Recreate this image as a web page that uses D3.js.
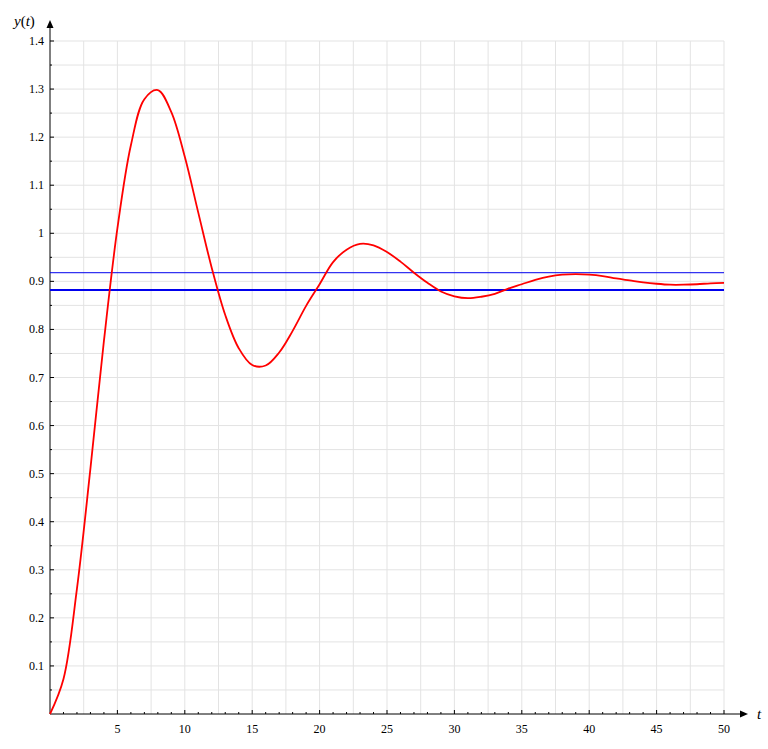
<!DOCTYPE html>
<html><head><meta charset="utf-8">
<script src="https://cdn.jsdelivr.net/npm/d3@7"></script>
<style>body{margin:0;background:#fff}text{font-family:"Liberation Serif","DejaVu Serif",serif;}</style>
</head><body><svg id="c" width="768" height="749"></svg>
<script>
const tValues=[0,1,2,3,4,5,6,7,8,9,10,11,12,13,14,15,16,17,18,19,20,21,22,23,24,25,26,27,28,29,30,31,32,33,34,35,36,37,38,39,40,41,42,43,44,45,46,47,48,49,50];
const yValues=[0,0.073,0.261,0.511,0.776,1.010,1.183,1.279,1.298,1.252,1.159,1.043,0.928,0.830,0.761,0.726,0.725,0.752,0.797,0.849,0.894,0.940,0.966,0.978,0.975,0.961,0.941,0.918,0.897,0.879,0.869,0.865,0.868,0.874,0.885,0.894,0.903,0.910,0.914,0.915,0.914,0.911,0.906,0.902,0.898,0.895,0.893,0.893,0.894,0.896,0.897];
const bandLines=[{v:0.918,w:1},{v:0.882,w:2}];
const xTicks=[5,10,15,20,25,30,35,40,45,50];
const yTicks=[0.1,0.2,0.3,0.4,0.5,0.6,0.7,0.8,0.9,1,1.1,1.2,1.3,1.4];
const svg=d3.select("#c");
const x=d3.scaleLinear().domain([0,50]).range([50,724]);
const y=d3.scaleLinear().domain([0,1.4]).range([714,41]);
const g=svg.append("g");
d3.range(2.5,50.01,2.5).forEach(v=>g.append("line").attr("x1",x(v)).attr("x2",x(v)).attr("y1",y(0)).attr("y2",y(1.4)).attr("stroke","#e3e3e3"));
d3.range(0.05,1.401,0.05).forEach(v=>g.append("line").attr("x1",x(0)).attr("x2",x(50)).attr("y1",y(v)).attr("y2",y(v)).attr("stroke","#e3e3e3"));
// axes
svg.append("line").attr("x1",x(0)).attr("x2",742).attr("y1",y(0)).attr("y2",y(0)).attr("stroke","#000");
svg.append("line").attr("x1",x(0)).attr("x2",x(0)).attr("y1",y(0)).attr("y2",26).attr("stroke","#000");
svg.append("path").attr("d",`M748,${y(0)} l-8,-3.5 l0,7z`);
svg.append("path").attr("d",`M${x(0)},20 l-3.5,8 l7,0z`);
d3.range(1,50.01,1).forEach(v=>svg.append("line").attr("x1",x(v)).attr("x2",x(v)).attr("y1",y(0)).attr("y2",y(0)-(v%5===0?4:2)).attr("stroke","#000"));
d3.range(0.05,1.401,0.05).forEach((v,i)=>svg.append("line").attr("x1",x(0)).attr("x2",x(0)+(i%2===1?4:2)).attr("y1",y(v)).attr("y2",y(v)).attr("stroke","#000"));
xTicks.forEach(v=>svg.append("text").attr("x",x(v)).attr("y",y(0)+19).attr("text-anchor","middle").attr("font-size",12).text(v));
yTicks.forEach(v=>svg.append("text").attr("x",x(0)-6).attr("y",y(v)+4).attr("text-anchor","end").attr("font-size",12).text(v));
svg.append("text").attr("x",757).attr("y",y(0)+5).attr("font-size",15).attr("font-style","italic").text("t");
svg.append("text").attr("x",14).attr("y",26).attr("font-size",15).html('<tspan font-style="italic">y</tspan>(<tspan font-style="italic">t</tspan>)');
bandLines.forEach(b=>svg.append("line").attr("x1",x(0)).attr("x2",x(50)).attr("y1",y(b.v)).attr("y2",y(b.v)).attr("stroke","#0000ee").attr("stroke-width",b.w));
svg.append("path").datum(tValues.map((t,i)=>[t,yValues[i]])).attr("fill","none").attr("stroke","#ff0000").attr("stroke-width",1.8)
 .attr("d",d3.line().x(d=>x(d[0])).y(d=>y(d[1])).curve(d3.curveCatmullRom));
</script></body></html>
